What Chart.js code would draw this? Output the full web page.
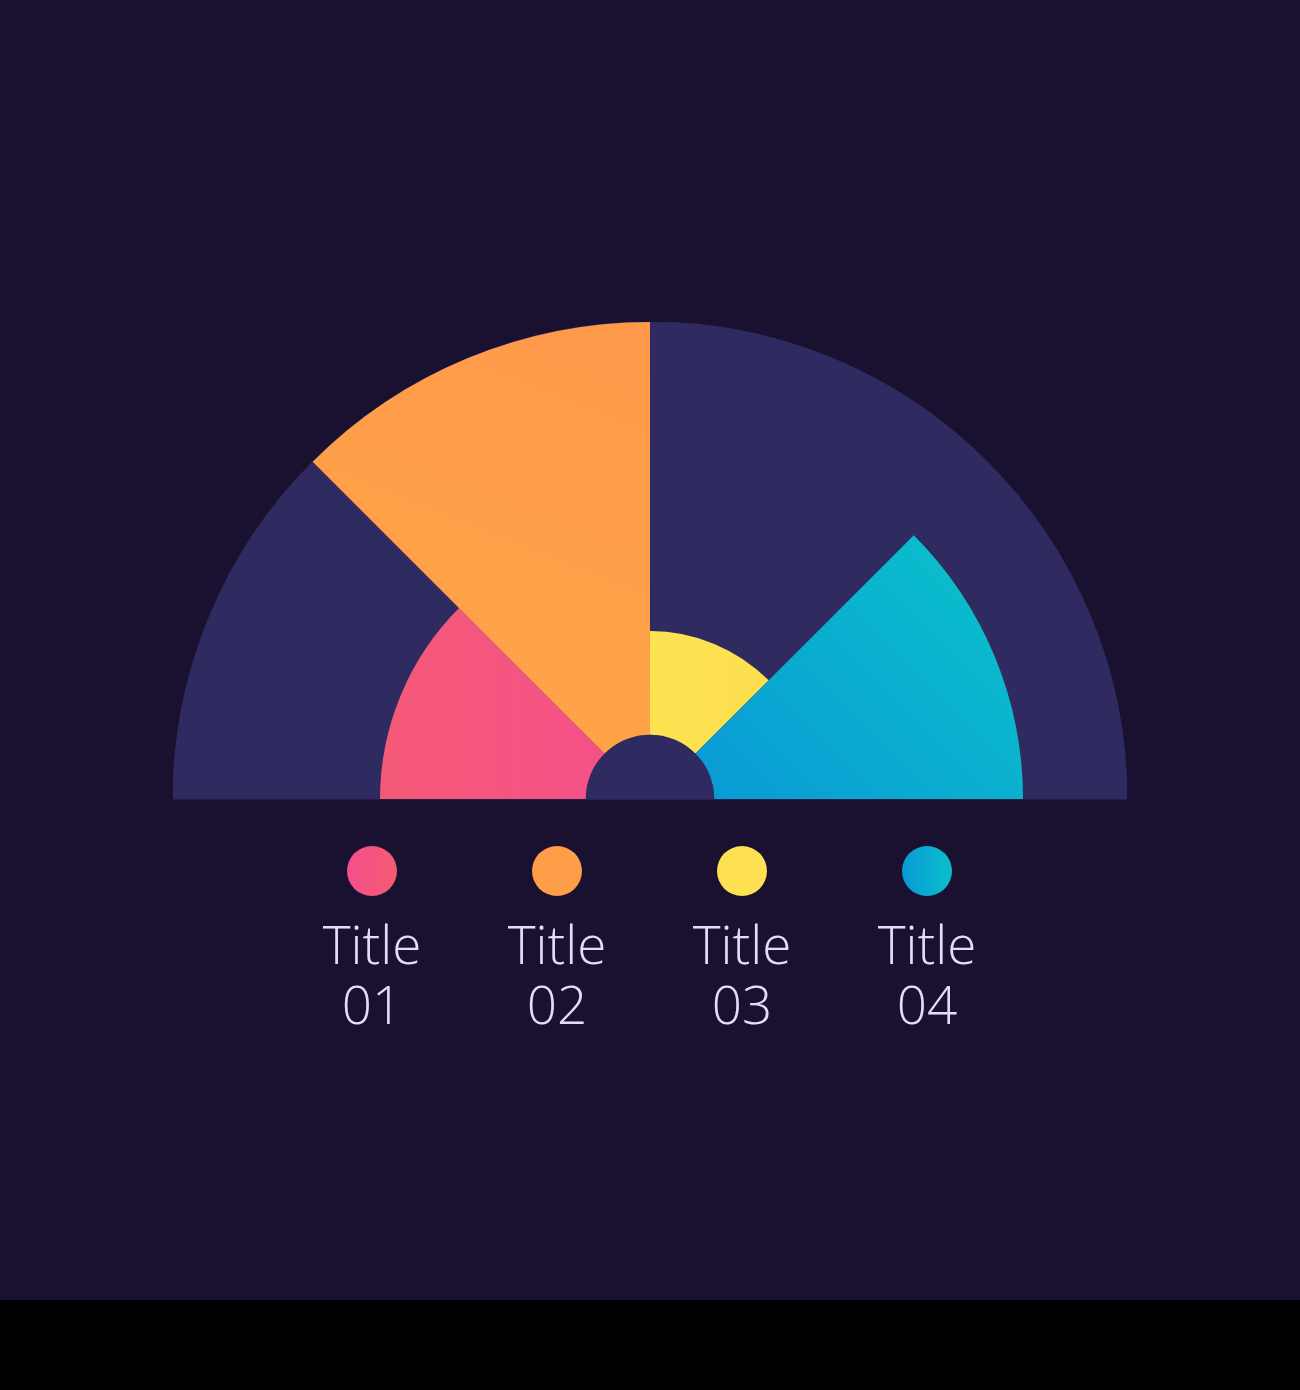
<!DOCTYPE html>
<html>
<head>
<meta charset="utf-8">
<script src="https://cdn.jsdelivr.net/npm/chart.js@4"></script>
<style>
  html, body { margin: 0; padding: 0; }
  body { width: 1300px; height: 1390px; background: #1a1130; position: relative; overflow: hidden; font-family: "Open Sans", sans-serif; }
  #wrap { position: absolute; left: 173px; top: 322px; width: 954px; height: 954px; }
  #legend { position: absolute; left: 0; top: 846px; width: 1300px; }
  .item { position: absolute; width: 180px; margin-left: -90px; text-align: center; color: #e2def6; font-weight: 300; font-size: 53px; line-height: 60px; letter-spacing: 0; }
  .dot { width: 50px; height: 50px; border-radius: 50%; margin: 0 auto 18px; }
  #band { position: absolute; left: 0; top: 1300px; width: 1300px; height: 90px; background: #000; }
</style>
</head>
<body>
<div id="wrap"><canvas id="chart"></canvas></div>
<div id="legend"></div>
<div id="band"></div>
<script>
// data
const labels = ["Title 01", "Title 02", "Title 03", "Title 04"];
const values = [56.6, 100, 35.2, 78.2];
const trackValues = [100, 100, 100, 100];
const holeValues = [13.4, 13.4, 13.4, 13.4];
const legendX = [372, 557, 742, 927];

const NAVY = "#2f2b60";
// gradient stops per slice
const GRADS = [
  ["#f55a76", "#f4508a"],
  ["#ff984a", "#ffa647"],
  ["#fde352", "#fdde4e"],
  ["#0a96d6", "#0abfcb"]
];

function sliceColor(ctx) {
  const chart = ctx.chart;
  const area = chart.chartArea;
  const g = GRADS[ctx.dataIndex];
  if (!area) return g[0];
  const c = chart.ctx;
  const cx = (area.left + area.right) / 2, cy = (area.top + area.bottom) / 2;
  const r = (area.right - area.left) / 2;
  let grad;
  if (ctx.dataIndex === 0) grad = c.createLinearGradient(cx - r * 0.6, cy, cx, cy);
  else if (ctx.dataIndex === 1) grad = c.createLinearGradient(cx, cy - r, cx - r * 0.4, cy);
  else if (ctx.dataIndex === 2) grad = c.createLinearGradient(cx, cy, cx + r * 0.3, cy);
  else grad = c.createLinearGradient(cx, cy, cx + r * 0.6, cy - r * 0.6);
  grad.addColorStop(0, g[0]);
  grad.addColorStop(1, g[1]);
  return grad;
}

new Chart(document.getElementById("chart"), {
  type: "polarArea",
  data: {
    labels: labels,
    datasets: [
      { data: holeValues, backgroundColor: NAVY, borderColor: NAVY, borderWidth: 1, angle: 45 },
      { data: values, backgroundColor: sliceColor, borderWidth: 0, angle: 45 },
      { data: trackValues, backgroundColor: NAVY, borderColor: NAVY, borderWidth: 1, angle: 45 }
    ]
  },
  options: {
    responsive: true,
    maintainAspectRatio: false,
    animation: false,
    layout: { padding: 0 },
    plugins: { legend: { display: false }, tooltip: { enabled: false } },
    scales: {
      r: {
        min: 0,
        max: 100,
        startAngle: -90,
        ticks: { display: false },
        grid: { display: false },
        angleLines: { display: false },
        pointLabels: { display: false }
      }
    }
  }
});

// legend
const dotColors = ["linear-gradient(90deg,#f4508c,#f55a72)", "#ff9d48", "#fde150", "linear-gradient(90deg,#0a9ad6,#0abfcb)"];
const legend = document.getElementById("legend");
labels.forEach((lab, i) => {
  const d = document.createElement("div");
  d.className = "item";
  d.style.left = legendX[i] + "px";
  const parts = lab.split(" ");
  d.innerHTML = '<div class="dot" style="background:' + dotColors[i] + '"></div>' + parts[0] + "<br>" + parts[1];
  legend.appendChild(d);
});
</script>
</body>
</html>
